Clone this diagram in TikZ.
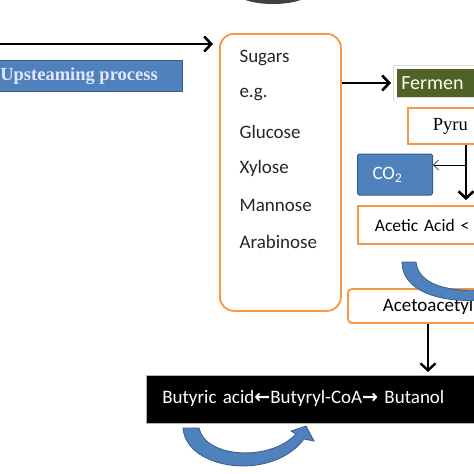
\documentclass[tikz,border=0pt]{standalone}
\usepackage{fontspec}
\setmainfont{Carlito}
\newfontfamily\serifface{Liberation Serif}
\newfontfamily\symface{DejaVu Sans}
\usetikzlibrary{arrows.meta}

\definecolor{boxorange}{HTML}{F79646}
\definecolor{boxblue}{HTML}{4F81BD}
\definecolor{lineblue}{HTML}{385D8A}
\definecolor{boxgreen}{HTML}{4F6228}

\tikzset{
  orangebox/.style={draw=boxorange,line width=1.8pt,fill=white,minimum height=36pt,align=left},
  bluebox/.style={draw=lineblue,line width=1pt,fill=boxblue,text=white,align=left},
  greenbox/.style={draw=gray!30,double=white,double distance=3pt,line width=0.6pt,fill=boxgreen,text=white!92!yellow,align=left},
  darkbox/.style={fill=black,draw=gray!60,line width=0.5pt,text=white,align=left},
  thickarrow/.style={line width=2.6pt,-{Straight Barb[length=7pt,width=15pt]}},
  thinarrow/.style={line width=0.7pt,-{Straight Barb[length=5pt,width=10pt]}},
  bluecurve/.style={fill=boxblue,draw=lineblue,line width=0.8pt},
  bigtext/.style={font=\fontsize{19}{21}\selectfont},
  sugar/.style={anchor=west,bigtext,text=black!85},
}

\begin{document}
\begin{tikzpicture}[x=1pt,y=-1pt]
\useasboundingbox (0,0) rectangle (474,474);
\clip (0,0) rectangle (474,474);

% top shadow
\fill[black!75] (273,-8) ellipse [x radius=37,y radius=12];

% upstream part
\node[bluebox,anchor=north west,minimum width=207pt,minimum height=31pt,align=center,
      font=\serifface\bfseries\fontsize{18.5}{20}\selectfont,text=white!90!blue] (up) at (-25,60) {Upsteaming process};
\coordinate (in) at (-5,44);

\node[draw=boxorange,line width=1.8pt,rounded corners=14pt,minimum width=121pt,minimum height=277pt,anchor=north west] (sugars) at (219,33) {};
\foreach \txt [count=\i] in {Sugars,e.g.,Glucose,Xylose,Mannose,Arabinose}
  \node[sugar] (s\i) at (236,{21.5+\i*36.7}) {\txt};

\draw[thickarrow,shorten >=6pt] (in) -- (in -| sugars.west);

% fermentation
\node[greenbox,anchor=west,text width=82pt,inner xsep=6pt,minimum height=32pt,font=\fontsize{20}{22}\selectfont] (ferm) at (395,83) {Fermen};
\draw[thickarrow,shorten >=4pt] (sugars.east |- ferm) -- (ferm.west);

\node[orangebox,anchor=west,text width=60pt,inner xsep=25pt,font=\serifface\fontsize{18.5}{20}\selectfont] (pyru) at (407,126) {Pyru};

\node[bluebox,anchor=west,text width=45pt,inner xsep=15pt,minimum height=41pt,rounded corners=1.5pt,bigtext] (co2) at (357,174.5) {CO\textsubscript{2}};

\node[orangebox,anchor=west,text width=140pt,inner xsep=17pt,minimum height=38pt,font=\fontsize{17.5}{20}\selectfont] (acetic) at (357,225) {Acetic Acid <};

\coordinate (trunk) at (466,0);
\coordinate (split) at (466,165);
\draw[thickarrow,shorten >=5pt] (pyru.south -| trunk) -- (acetic.north -| trunk);
\draw[thinarrow] (split) -- (split -| co2.east);

\node[orangebox,anchor=west,text width=140pt,inner xsep=35pt,minimum height=34pt,rounded corners=4pt,bigtext] (acac) at (347,306) {\raisebox{-3pt}{Acetoacetyl}};

% curved arrow between acetic acid and acetoacetyl
\path[bluecurve] (402,262) .. controls (402,291) and (440,303) .. (480,300)
  -- (480,290) .. controls (445,292) and (418,283) .. (416,262) -- cycle;

% butyryl
\node[darkbox,anchor=north west,text width=328pt,inner xsep=16pt,minimum height=48pt,bigtext] (buty) at (146,375)
  {\raisebox{4pt}{Butyric acid{\symface\bfseries\fontsize{19}{21}\selectfont←}Butyryl-CoA{\symface\bfseries\fontsize{19}{21}\selectfont→} Butanol}};
\coordinate (drop) at (428,0);
\draw[line width=2.4pt,-{Straight Barb[length=7pt,width=15pt]},shorten >=3pt] (acac.south -| drop) -- (buty.north -| drop);

\path[bluecurve] (183,428) .. controls (186,470) and (272,482) .. (304,439)
  -- (314,441) -- (306,426) -- (291,431) -- (296,434)
  .. controls (270,462) and (205,458) .. (199,428) -- cycle;
\end{tikzpicture}
\end{document}
